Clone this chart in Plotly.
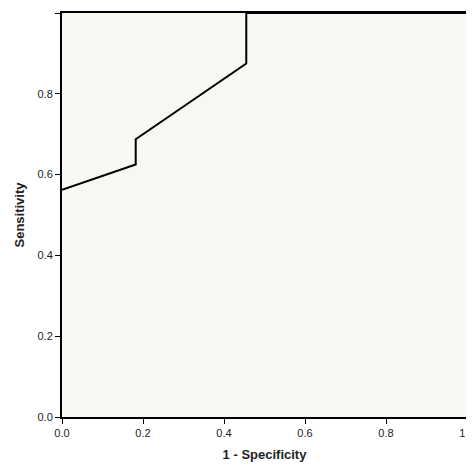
import plotly.graph_objects as go

fpr = [0.0, 0.182, 0.182, 0.455, 0.455, 1.0]
tpr = [0.5625, 0.625, 0.6875, 0.875, 1.0, 1.0]
ticks = [0.0, 0.2, 0.4, 0.6, 0.8, 1.0]
tick_labels = ["0.0", "0.2", "0.4", "0.6", "0.8", "1.0"]

fig = go.Figure(go.Scatter(x=fpr, y=tpr, mode="lines", line=dict(color="black", width=2), cliponaxis=False))
ax = dict(range=[0, 1], tickvals=ticks, ticktext=tick_labels, ticks="outside", ticklen=5,
          tickcolor="black", showline=True, linecolor="black", linewidth=2, mirror=True,
          showgrid=False, zeroline=False, automargin=False,
          tickfont=dict(family="Arial, Liberation Sans", size=11, color="#222"))
fig.update_xaxes(**ax, title=dict(text="<b>1 - Specificity</b>", font=dict(family="Arial, Liberation Sans", size=13, color="#222"), standoff=12))
fig.update_yaxes(**ax, title=dict(text="<b>Sensitivity</b>", font=dict(family="Arial, Liberation Sans", size=13, color="#222"), standoff=10))
fig.update_layout(width=474, height=474, margin=dict(l=54, r=15, t=5, b=65, autoexpand=False),
                  paper_bgcolor="white", plot_bgcolor="#F8F8F3", showlegend=False)
fig.write_html("out.html")
